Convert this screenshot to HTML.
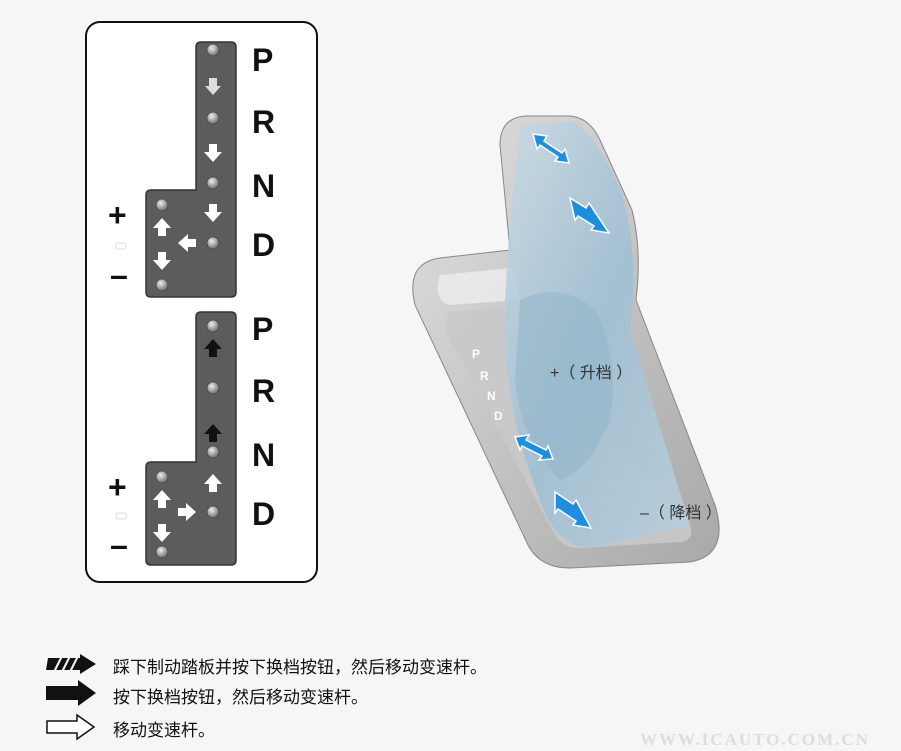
<!DOCTYPE html>
<html><head><meta charset="utf-8"><style>
body{margin:0;width:901px;height:751px;background:#f6f6f6;position:relative;overflow:hidden;font-family:"Liberation Sans","Noto Sans CJK SC",sans-serif}
.t{position:absolute;font-size:17px;color:#111;font-family:"Liberation Sans","Noto Sans CJK SC",sans-serif}
</style></head><body>
<svg width="901" height="751" style="position:absolute;left:0;top:0">
<defs>
<radialGradient id="dot" cx="40%" cy="35%" r="60%"><stop offset="0" stop-color="#eee"/><stop offset="1" stop-color="#777"/></radialGradient>
<linearGradient id="lever" x1="0" y1="0" x2="1" y2="1"><stop offset="0" stop-color="#c8d9e4"/><stop offset=".5" stop-color="#9fbfd3"/><stop offset="1" stop-color="#b9cfdc"/></linearGradient>
<linearGradient id="base" x1="0" y1="0" x2="1" y2="1"><stop offset="0" stop-color="#e0e0e0"/><stop offset="1" stop-color="#a8a8a8"/></linearGradient>
</defs>
<rect x="86" y="22" width="231" height="560" rx="14" fill="#fff" stroke="#111" stroke-width="2"/>
<g fill="#5c5c5c" stroke="#333" stroke-width="1.5">
<path d="M201 42 H231 Q236 42 236 47 V292 Q236 297 231 297 H151 Q146 297 146 292 V195 Q146 190 151 190 H196 V47 Q196 42 201 42Z"/>
<path d="M201 312 H231 Q236 312 236 317 V560 Q236 565 231 565 H151 Q146 565 146 560 V467 Q146 462 151 462 H196 V317 Q196 312 201 312Z"/>
</g>
<g fill="url(#dot)" stroke="#444" stroke-width=".8">
<circle cx="213" cy="50" r="6"/><circle cx="213" cy="118" r="6"/><circle cx="213" cy="183" r="6"/><circle cx="213" cy="243" r="6"/><circle cx="162" cy="205" r="6"/><circle cx="162" cy="285" r="6"/>
<circle cx="213" cy="326" r="6"/><circle cx="213" cy="388" r="6"/><circle cx="213" cy="452" r="6"/><circle cx="213" cy="512" r="6"/><circle cx="162" cy="477" r="6"/><circle cx="162" cy="552" r="6"/>
</g>
<g fill="#fff">
<path d="M209 78 h8 v8 h4 l-8 9 l-8 -9 h4z" fill="#ddd"/>
<path d="M209 144 h8 v8 h5 l-9 10 l-9 -10 h5z"/>
<path d="M209 204 h8 v8 h5 l-9 10 l-9 -10 h5z"/>
<path d="M158 236 h8 v-8 h5 l-9 -10 l-9 10 h5z"/>
<path d="M158 252 h8 v8 h5 l-9 10 l-9 -10 h5z"/>
<path d="M196 239 v8 h-8 v5 l-10 -9 l10 -9 v5z"/>
<path d="M209 442 h8 v-8 h5 l-9 -10 l-9 10 h5z" fill="#111"/>
<path d="M209 427 h8 v-8 h5 l-9 -10 l-9 10 h5z" transform="translate(0,-70)" fill="#111"/>
<path d="M209 492 h8 v-8 h5 l-9 -10 l-9 10 h5z"/>
<path d="M158 508 h8 v-8 h5 l-9 -10 l-9 10 h5z"/>
<path d="M158 524 h8 v8 h5 l-9 10 l-9 -10 h5z"/>
<path d="M178 508 v8 h8 v5 l10 -9 l-10 -9 v5z"/>
</g>
<g font-family="Liberation Sans" font-weight="bold" font-size="32" fill="#111">
<text x="252" y="71">P</text><text x="252" y="133">R</text><text x="252" y="197">N</text><text x="252" y="256">D</text>
<text x="252" y="340">P</text><text x="252" y="402">R</text><text x="252" y="466">N</text><text x="252" y="525">D</text>
<text x="108" y="226">+</text><text x="110" y="286">–</text><text x="108" y="498">+</text><text x="110" y="556">–</text>
</g>
<rect x="116" y="243" width="10" height="6" rx="2" fill="none" stroke="#ddd"/>
<rect x="116" y="513" width="10" height="6" rx="2" fill="none" stroke="#ddd"/>
<!-- shifter silhouette -->
<path d="M440 258 L510 250 L500 145 Q500 118 525 116 L570 116 Q590 118 600 140 L632 210 Q642 250 636 300 L715 505 Q730 555 690 562 L570 568 Q540 568 528 545 L415 305 Q405 263 440 258Z" fill="url(#base)" stroke="#888"/>
<path d="M440 275 L512 268 L520 300 L450 305 Q432 300 440 275Z" fill="#ededed" opacity=".8"/>
<path d="M448 312 L500 308 L690 525 Q695 540 680 542 L580 548 Q560 548 552 530 L445 330Z" fill="#c9c9c9" opacity=".9"/>
<path d="M520 125 L575 122 Q600 140 620 190 Q640 250 630 330 L690 525 L590 548 Q555 545 540 500 Q500 400 505 300 Q510 210 520 125Z" fill="url(#lever)" opacity=".9"/>
<path d="M520 300 Q560 280 595 310 Q620 360 610 420 Q590 470 560 480 Q520 440 515 380Z" fill="#8fb3c8" opacity=".5"/>
<g fill="#1d8fe0" stroke="#fff" stroke-width="1.5">
<path d="M533 134 l14 2 l-3 5 l18 12 l3 -4 l4 14 l-14 -2 l3 -4 l-18 -12 l-3 4z"/>
<path d="M570 198 l16 10 l3 -5 l20 30 l-18 -3 l3 -4 l-16 -10 l-3 4z"/>
<path d="M515 437 l14 -2 l-3 5 l20 10 l2 -4 l5 13 l-14 1 l3 -4 l-20 -10 l-2 4z"/>
<path d="M555 492 l18 12 l3 -4 l15 28 l-18 -3 l3 -4 l-18 -12 l-3 4z"/>
</g>
<g font-family="Liberation Sans" font-weight="bold" font-size="12" fill="#fff"><text x="472" y="358">P</text><text x="480" y="380">R</text><text x="487" y="400">N</text><text x="494" y="420">D</text></g>
<!-- legend icons -->
<path d="M48 658 H80 V654 L96 664 L80 674 V670 H46 Z" fill="#111"/>
<g stroke="#f6f6f6" stroke-width="2"><line x1="54" y1="672" x2="62" y2="656"/><line x1="62" y1="672" x2="70" y2="656"/><line x1="70" y1="672" x2="78" y2="656"/></g>
<path d="M46 686 H78 V680 L96 693 L78 706 V700 H46 Z" fill="#111"/>
<path d="M47 721 H77 V715 L94 727 L77 739 V733 H47 Z" fill="#fff" stroke="#111" stroke-width="1.5"/>
</svg>
<div class="t" style="left:550px;top:359px;font-size:16px;color:#333">+（ 升档 ）</div>
<div class="t" style="left:640px;top:499px;font-size:16px;color:#333">–（ 降档 ）</div>
<div class="t" style="left:113px;top:653px">踩下制动踏板并按下换档按钮，然后移动变速杆。</div>
<div class="t" style="left:113px;top:683px">按下换档按钮，然后移动变速杆。</div>
<div class="t" style="left:113px;top:716px">移动变速杆。</div>
<div class="t" style="left:640px;top:730px;font-size:17px;font-weight:bold;color:#ddd;font-family:'Liberation Serif',serif;letter-spacing:2px">WWW.ICAUTO.COM.CN</div>
</body></html>
